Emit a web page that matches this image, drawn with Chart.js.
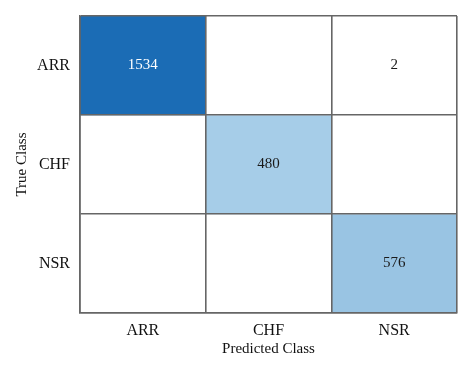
<!DOCTYPE html>
<html>
<head>
<meta charset="utf-8">
<script src="https://cdn.jsdelivr.net/npm/chart.js@4/dist/chart.umd.min.js"></script>
<style>
  html, body { margin: 0; padding: 0; background: #fff; }
  #wrap { width: 474px; height: 372px; }
</style>
</head>
<body>
<div id="wrap"><canvas id="cm"></canvas></div>
<script>
// 混同行列のデータ
var predictedClasses = ['ARR', 'CHF', 'NSR'];
var trueClasses = ['ARR', 'CHF', 'NSR'];
var countsARR = [1534, 0, 2];
var countsCHF = [0, 480, 0];
var countsNSR = [0, 0, 576];

var rowCounts = [countsARR, countsCHF, countsNSR];
var serif = '"Liberation Serif", "DejaVu Serif", serif';

// 値 -> 青系の色
function cellColor(v) {
  var stops = [
    [0, [255, 255, 255]],
    [480, [166, 205, 232]],
    [1534, [27, 108, 181]]
  ];
  if (v <= 5) return 'rgb(255,255,255)';
  for (var i = 1; i < stops.length; i++) {
    if (v <= stops[i][0]) {
      var a = stops[i - 1], b = stops[i];
      var t = (v - a[0]) / (b[0] - a[0]);
      if (i === 1) t = 1;
      var c = a[1].map(function(x, k) { return Math.round(x + (b[1][k] - x) * t); });
      return 'rgb(' + c.join(',') + ')';
    }
  }
  return 'rgb(27,108,181)';
}

// 行ごとにデータセット（上から ARR, CHF, NSR）
var datasets = trueClasses.map(function(name, r) {
  var lo = trueClasses.length - 1 - r;
  return {
    label: name,
    data: rowCounts[r].map(function() { return [lo, lo + 1]; }),
    backgroundColor: rowCounts[r].map(cellColor),
    borderWidth: 0,
    categoryPercentage: 1,
    barPercentage: 1,
    counts: rowCounts[r]
  };
});

var cellLabels = {
  id: 'cellLabels',
  afterDatasetsDraw: function(chart) {
    var ctx = chart.ctx;
    ctx.save();
    ctx.font = '15px ' + serif;
    ctx.textAlign = 'center';
    ctx.textBaseline = 'middle';
    chart.data.datasets.forEach(function(ds, i) {
      chart.getDatasetMeta(i).data.forEach(function(el, j) {
        var v = ds.counts[j];
        if (!v) return;
        var p = el.getCenterPoint();
        ctx.fillStyle = v > 1000 ? '#ffffff' : '#1a1a1a';
        ctx.fillText(String(v), p.x, p.y);
      });
    });
    ctx.restore();
  }
};

new Chart(document.getElementById('cm'), {
  type: 'bar',
  data: { labels: predictedClasses, datasets: datasets },
  plugins: [cellLabels],
  options: {
    responsive: true,
    maintainAspectRatio: false,
    animation: false,
    layout: { padding: { top: 16, right: 17, left: 0, bottom: 0 } },
    plugins: { legend: { display: false }, tooltip: { enabled: false } },
    scales: {
      x: {
        stacked: true,
        grid: { z: 1, offset: true, color: '#666', lineWidth: 1.6, drawTicks: false },
        border: { z: 1, color: '#666', width: 1.6 },
        ticks: { color: '#111', font: { family: serif, size: 16 }, padding: 8 },
        title: { display: true, text: 'Predicted Class', color: '#111',
                 font: { family: serif, size: 15 }, padding: { top: 0, bottom: 14 } },
        afterFit: function(s) { s.height = 59; s.paddingLeft = 0; s.paddingRight = 0; }
      },
      y: {
        stacked: false,
        min: 0,
        max: 3,
        grid: {
          z: 1,
          drawTicks: false,
          lineWidth: 1.6,
          color: function(c) { return c.tick && c.tick.value % 1 === 0 ? '#666' : 'rgba(0,0,0,0)'; }
        },
        border: { z: 1, color: '#666', width: 1.6 },
        ticks: {
          stepSize: 0.5,
          color: '#111',
          font: { family: serif, size: 16 },
          padding: 10,
          callback: function(v) {
            if (v % 1 === 0) return '';
            return trueClasses[trueClasses.length - 1 - Math.floor(v)];
          }
        },
        title: { display: true, text: 'True Class', color: '#111',
                 font: { family: serif, size: 15 }, padding: { top: 13, bottom: 0 } },
        afterFit: function(s) { s.width = 80; s.paddingTop = 0; s.paddingBottom = 0; }
      }
    }
  }
});
</script>
</body>
</html>
